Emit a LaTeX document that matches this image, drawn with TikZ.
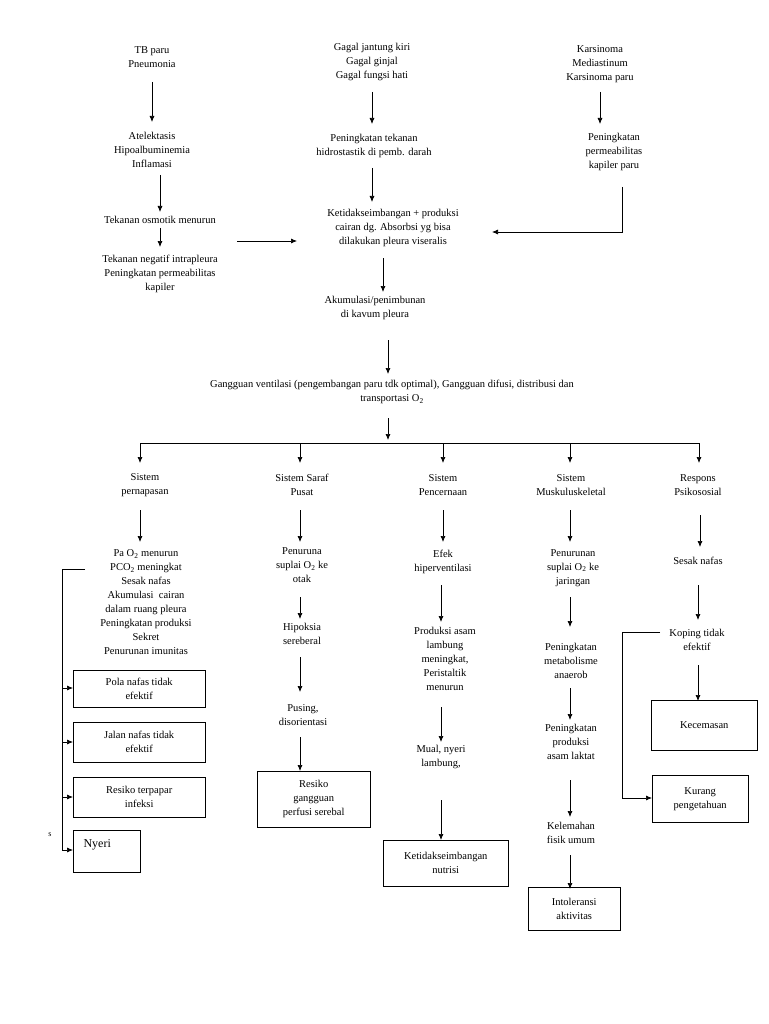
\documentclass[tikz,border=0pt]{standalone}
\usepackage{fontspec}
\usetikzlibrary{arrows.meta}
\setmainfont{Liberation Serif}
\begin{document}
\begin{tikzpicture}[x=1pt,y=-1pt,
 t/.style={align=center,font=\fontsize{10.5}{14}\selectfont,inner sep=2pt},
 b/.style={draw,align=center,font=\fontsize{10.5}{14}\selectfont,anchor=north west,inner sep=0pt},
 ar/.style={-{Latex[length=6pt,width=5pt]},line width=0.7pt},
 ln/.style={line width=0.7pt}]
\useasboundingbox (0,0) rectangle (768,1024);
% column 1 top
\node[t] (a1) at (152,57) {TB paru\\Pneumonia};
\node[t] (a2) at (152,150) {Atelektasis\\Hipoalbuminemia\\Inflamasi};
\node[t] (a3) at (160,220) {Tekanan osmotik menurun};
\node[t] (a4) at (160,274) {Tekanan negatif intrapleura\\Peningkatan permeabilitas\\kapiler};
\draw[ar] (152,82) -- (152,122);
\draw[ar] (160,175) -- (160,212);
\draw[ar] (160,228) -- (160,247);
% column 2
\node[t] (b1) at (372,62) {Gagal jantung kiri\\Gagal ginjal\\Gagal fungsi hati};
\node[t] (b2) at (374,146) {Peningkatan tekanan\\hidrostastik di pemb. darah};
\node[t] (b3) at (393,228) {Ketidakseimbangan + produksi\\cairan dg. Absorbsi yg bisa\\dilakukan pleura viseralis};
\node[t] (b4) at (375,308) {Akumulasi/penimbunan\\di kavum pleura};
\node[t] (b5) at (392,392) {Gangguan ventilasi (pengembangan paru tdk optimal), Gangguan difusi, distribusi dan\\transportasi O\textsubscript{2}};
\draw[ar] (372,92) -- (372,124);
\draw[ar] (372,168) -- (372,202);
\draw[ar] (383,258) -- (383,292);
\draw[ar] (388,340) -- (388,374);
\coordinate (h1) at (237,241);
\coordinate (h2) at (297,241);
\draw[ar] (h1) -- (h2);
% column 3
\node[t] (c1) at (600,64) {Karsinoma\\Mediastinum\\Karsinoma paru};
\node[t] (c2) at (614,152) {Peningkatan\\permeabilitas\\kapiler paru};
\draw[ar] (600,92) -- (600,124);
\coordinate (k1) at (622,187);
\coordinate (k2) at (492,232);
\draw[ar] (k1) |- (k2);
% distribution
\coordinate (d0) at (388,418);
\coordinate (dl) at (140,443);
\coordinate (dr) at (699,443);
\draw[ar] (d0) -- (388,440);
\draw[ln] (dl) -- (dr);
\foreach \x in {140,300,443,570,699} \draw[ar] (\x,443) -- (\x,463);
\node[t] (s1) at (145,485) {Sistem\\pernapasan};
\node[t] (s2) at (302,485) {Sistem Saraf\\Pusat};
\node[t] (s3) at (443,485) {Sistem\\Pencernaan};
\node[t] (s4) at (571,485) {Sistem\\Muskuluskeletal};
\node[t] (s5) at (698,485) {Respons\\Psikososial};
\foreach \x in {140,300,443,570} \draw[ar] (\x,510) -- (\x,542);
\draw[ar] (700,515) -- (700,547);
% col 1
\node[t] (p1) at (146,602) {Pa O\textsubscript{2} menurun\\PCO\textsubscript{2} meningkat\\Sesak nafas\\Akumulasi \ cairan\\dalam ruang pleura\\Peningkatan produksi\\Sekret\\Penurunan imunitas};
\node[b,minimum width=132pt,minimum height=37pt] (q1) at (73,670) {Pola nafas tidak\\efektif};
\node[b,minimum width=132pt,minimum height=40pt] (q2) at (73,722) {Jalan nafas tidak\\efektif};
\node[b,minimum width=132pt,minimum height=40pt] (q3) at (73,777) {Resiko terpapar\\infeksi};
\node[b,minimum width=67pt,minimum height=42pt] (q4) at (73,830) {};
\node[font=\fontsize{12}{14}\selectfont,anchor=west] at (80,845) {Nyeri};
\node[font=\fontsize{8}{9}\selectfont] at (50,835) {s};
\coordinate (pL) at (85,569);
\draw[ln] (pL) -- (62,569) -- (62,850);
\draw[ar] (62,688) -- (73,688);
\draw[ar] (62,742) -- (73,742);
\draw[ar] (62,797) -- (73,797);
\draw[ar] (62,850) -- (73,850);
% col 2
\node[t] (r1) at (302,565) {Penuruna\\suplai O\textsubscript{2} ke\\otak};
\node[t] (r2) at (302,634) {Hipoksia\\sereberal};
\node[t] (r3) at (303,715) {Pusing,\\disorientasi};
\node[b,minimum width=113pt,minimum height=56pt] (r4) at (257,771) {Resiko\\gangguan\\perfusi serebal};
\draw[ar] (300,597) -- (300,619);
\draw[ar] (300,657) -- (300,692);
\draw[ar] (300,737) -- (300,771);
% col 3
\node[t] (e1) at (443,562) {Efek\\hiperventilasi};
\node[t] (e2) at (445,659) {Produksi asam\\lambung\\meningkat,\\Peristaltik\\menurun};
\node[t] (e3) at (441,757) {Mual, nyeri\\lambung,};
\node[b,minimum width=125pt,minimum height=46pt] (e4) at (383,840) {Ketidakseimbangan\\nutrisi};
\draw[ar] (441,585) -- (441,622);
\draw[ar] (441,707) -- (441,742);
\draw[ar] (441,800) -- (441,840);
% col 4
\node[t] (m1) at (573,568) {Penurunan\\suplai O\textsubscript{2} ke\\jaringan};
\node[t] (m2) at (571,661) {Peningkatan\\metabolisme\\anaerob};
\node[t] (m3) at (571,742) {Peningkatan\\produksi\\asam laktat};
\node[t] (m4) at (571,833) {Kelemahan\\fisik umum};
\node[b,minimum width=92pt,minimum height=43pt] (m5) at (528,887) {Intoleransi\\aktivitas};
\draw[ar] (570,597) -- (570,627);
\draw[ar] (570,688) -- (570,720);
\draw[ar] (570,780) -- (570,817);
\draw[ar] (570,855) -- (570,889);
% col 5
\node[t] (n1) at (698,561) {Sesak nafas};
\node[t] (n2) at (697,640) {Koping tidak\\efektif};
\node[b,minimum width=106pt,minimum height=50pt] (n3) at (651,700) {Kecemasan};
\node[b,minimum width=96pt,minimum height=47pt] (n4) at (652,775) {Kurang\\pengetahuan};
\draw[ar] (698,585) -- (698,620);
\draw[ar] (698,665) -- (698,701);
\coordinate (nk) at (660,632);
\draw[ln] (nk) -- (622,632) -- (622,798);
\draw[ar] (622,798) -- (n4.west |- 0,798);
\end{tikzpicture}
\end{document}
